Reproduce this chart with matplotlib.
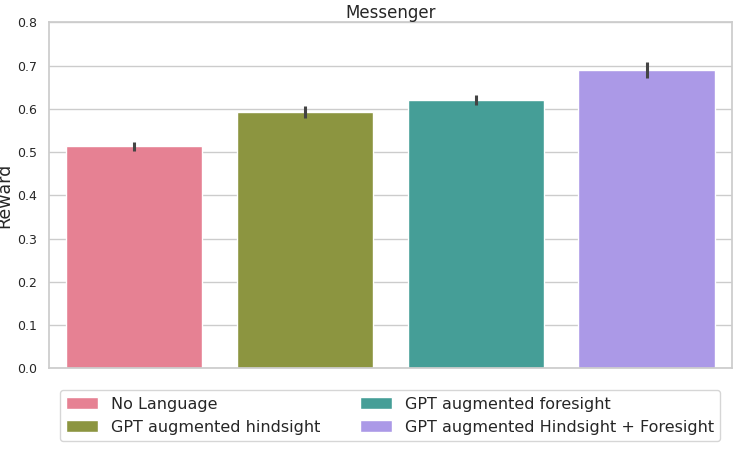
import matplotlib
matplotlib.use("Agg")
import matplotlib.pyplot as plt
import seaborn as sns

sns.set_theme(style="whitegrid")

methods = ["No Language", "GPT augmented hindsight", "GPT augmented foresight",
           "GPT augmented Hindsight + Foresight"]
rewards = [0.513, 0.593, 0.620, 0.690]
errors = [0.011, 0.013, 0.011, 0.018]

palette = sns.color_palette("husl", len(methods))
palette = [sns.desaturate(c, 0.75) for c in palette]

fig, ax = plt.subplots(figsize=(7.36, 4.49), dpi=100)
fig.subplots_adjust(left=0.066, right=0.995, top=0.95, bottom=0.18)

x = range(len(methods))
bars = ax.bar(x, rewards, width=0.8, color=palette, label=methods)
ax.errorbar(x, rewards, yerr=errors, fmt="none", ecolor="#444444", elinewidth=2.2, capsize=0)

ax.set_xlim(-0.5, 3.5)
ax.set_ylim(0, 0.8)
ax.set_xticks([])
ax.set_yticks([i / 10 for i in range(9)])
ax.tick_params(axis="y", labelsize=9, pad=2)
ax.set_ylabel("Reward", fontsize=12.5, labelpad=3)
ax.set_title("Messenger", fontsize=12, pad=3)

fig.legend(bars, methods, loc="lower center", ncol=2, fontsize=11.5,
           bbox_to_anchor=(0.53, 0.0), columnspacing=2.5, frameon=True)

fig.savefig("out.png", dpi=100)
